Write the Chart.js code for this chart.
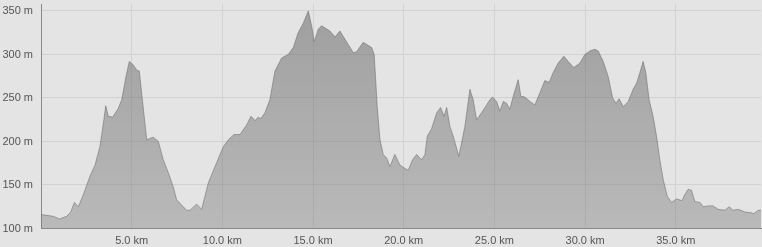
<!DOCTYPE html>
<html>
<head>
<meta charset="utf-8">
<script src="https://cdn.jsdelivr.net/npm/chart.js@4/dist/chart.umd.min.js"></script>
<style>
html,body{margin:0;padding:0;background:#e4e4e4;}
#wrap{width:762px;height:247px;position:relative;}
</style>
</head>
<body>
<div id="wrap"><canvas id="c"></canvas></div>
<script>
const distanceKm = [0,0.68,1.01,1.42,1.64,1.84,2.06,2.30,2.70,2.98,
3.25,3.44,3.57,3.71,3.95,4.26,4.45,4.69,4.87,5.09,
5.28,5.42,5.61,5.83,6.19,6.47,6.74,7.02,7.29,7.48,
7.66,8.03,8.21,8.58,8.86,9.22,9.59,10.05,10.33,10.64,
10.97,11.34,11.58,11.80,11.98,12.11,12.35,12.62,12.90,13.27,
13.63,13.91,14.18,14.46,14.74,14.92,15.07,15.29,15.47,15.93,
16.21,16.48,17.22,17.40,17.77,18.23,18.37,18.54,18.69,18.87,
19.06,19.24,19.51,19.79,20.07,20.25,20.49,20.71,20.99,21.17,
21.30,21.54,21.82,22.03,22.22,22.37,22.55,22.73,23.04,23.37,
23.65,23.83,24.02,24.29,24.57,24.75,24.90,25.12,25.30,25.49,
25.67,25.85,26.04,26.31,26.46,26.68,26.96,27.23,27.51,27.78,
28.02,28.24,28.51,28.83,29.07,29.38,29.71,29.99,30.26,30.54,
30.72,31.00,31.27,31.52,31.70,31.88,32.10,32.38,32.65,32.84,
33.02,33.20,33.35,33.53,33.75,33.94,34.12,34.31,34.53,34.77,
35.04,35.35,35.50,35.68,35.87,36.05,36.33,36.51,36.79,37.06,
37.34,37.71,37.94,38.16,38.44,38.81,39.18,39.30,39.55,39.70];
const elevationM = [116,114,111,114,119,130,125,137,160,173,
194,221,241,229,228,238,248,275,292,288,
282,281,244,202,205,200,179,164,148,133,
129,121,121,128,122,152,171,194,202,208,
208,219,229,224,228,226,233,248,281,296,
300,308,325,336,350,333,315,329,333,327,
320,327,302,303,314,308,300,240,202,185,
181,171,185,173,169,167,179,185,179,185,
206,215,233,239,229,239,217,206,183,217,
260,248,225,233,242,248,251,246,235,246,
244,237,252,271,252,251,246,242,256,270,
268,279,290,298,292,285,290,300,304,306,
304,292,275,250,244,249,240,246,260,267,
279,292,279,248,229,206,179,156,137,130,
134,132,139,145,144,131,130,125,126,126,
122,121,125,121,122,119,118,117,121,121];
const yTicks = [100,150,200,250,300,350];
const xTicks = [5,10,15,20,25,30,35];

const pts = distanceKm.map((d,i)=>({x:d,y:elevationM[i]}));
const font = {family:'"Liberation Sans", Arial, sans-serif', size:11};

new Chart(document.getElementById('c'), {
  type:'line',
  data:{datasets:[{
    data:pts,
    fill:'start',
    tension:0,
    pointRadius:0,
    borderWidth:1,
    borderColor:'rgba(105,105,105,0.55)',
    backgroundColor:(ctx)=>{
      const ca = ctx.chart.chartArea;
      if(!ca) return 'rgba(100,100,100,0.4)';
      const g = ctx.chart.ctx.createLinearGradient(0,ca.top,0,ca.bottom);
      g.addColorStop(0,'rgba(80,80,80,0.47)');
      g.addColorStop(1,'rgba(120,120,120,0.40)');
      return g;
    }
  }]},
  options:{
    responsive:true,
    maintainAspectRatio:false,
    animation:false,
    layout:{padding:{top:4,right:1,left:0,bottom:0}},
    plugins:{legend:{display:false},tooltip:{enabled:false}},
    scales:{
      x:{
        type:'linear',min:0,max:39.7,
        afterBuildTicks:(s)=>{s.ticks = xTicks.map(v=>({value:v}));},
        afterFit:(s)=>{s.height=18.5;s.paddingLeft=0;s.paddingRight=0;},
        ticks:{padding:6,color:'#555',font:font,maxRotation:0,autoSkip:false,
          callback:(v)=>v.toFixed(1)+' km'},
        grid:{color:'#d2d2d2',drawTicks:false},
        border:{color:'#8a8a8a'}
      },
      y:{
        type:'linear',min:100,max:358,
        afterBuildTicks:(s)=>{s.ticks = yTicks.map(v=>({value:v}));},
        afterFit:(s)=>{s.width=41;s.paddingTop=0;s.paddingBottom=0;},
        ticks:{padding:8,color:'#555',font:font,
          callback:(v)=>v+' m'},
        grid:{color:'#d2d2d2',drawTicks:false},
        border:{color:'#8a8a8a'}
      }
    }
  }
});
</script>
</body>
</html>
